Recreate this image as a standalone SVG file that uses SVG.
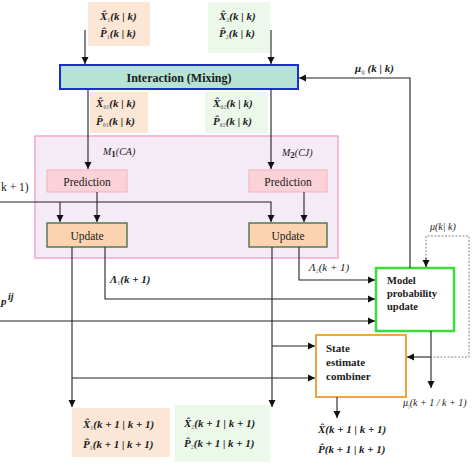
<svg xmlns="http://www.w3.org/2000/svg" width="474" height="474" viewBox="0 0 474 474">
<style>
text{font-family:"Liberation Serif","DejaVu Serif",serif;fill:#1a1a1a}
.m{font-size:11px;font-weight:bold;font-style:italic}
.mi{font-size:10px;font-style:italic}
.sub{font-size:6px;fill:#888;font-style:normal}
.lbl{font-size:11.5px}
.ln{stroke:#222;stroke-width:1.1;fill:none}
.dash{stroke:#777;stroke-width:0.9;fill:none;stroke-dasharray:2 1.5}
.org{fill:#fce6d6}
.grn{fill:#ecf8ea}
.pred{fill:#fbd2d8;stroke:#f2b2bc;stroke-width:1}
.upd{fill:#fcd3b0;stroke:#3d6b3d;stroke-width:1.3}
</style>
<defs>
<marker id="ah" markerWidth="8" markerHeight="8" refX="7" refY="4" orient="auto" markerUnits="userSpaceOnUse">
<path d="M0,0.5 L7,4 L0,7.5 Z" fill="#111"/>
</marker>
</defs>
<rect width="474" height="474" fill="#fff"/>

<g id="pinkbox"><rect x="35" y="136" width="303" height="122" fill="#f5ebf6" stroke="#f2a8cc" stroke-width="1.5"/>
<text x="103" y="155" class="mi" font-size="13">M<tspan font-size="9" dy="2" font-weight="bold" font-style="normal">1</tspan><tspan dy="-2">(CA)</tspan></text>
<text x="282" y="156" class="mi" font-size="13">M<tspan font-size="9" dy="2" font-weight="bold" font-style="normal">2</tspan><tspan dy="-2">(CJ)</tspan></text>
</g>

<g id="in1"><rect x="88" y="2" width="62" height="44" class="org"/>
<text x="100" y="20" class="m">X̂<tspan class="sub" dy="2">1</tspan><tspan dy="-2">(k | k)</tspan></text>
<text x="100" y="37" class="m">P̂<tspan class="sub" dy="2">1</tspan><tspan dy="-2">(k | k)</tspan></text></g>
<g id="in2"><rect x="208" y="2" width="62" height="51" class="grn"/>
<text x="219" y="20" class="m">X̂<tspan class="sub" dy="2">2</tspan><tspan dy="-2">(k | k)</tspan></text>
<text x="219" y="37" class="m">P̂<tspan class="sub" dy="2">2</tspan><tspan dy="-2">(k | k)</tspan></text></g>

<g id="interaction"><rect x="60" y="65" width="238" height="24" fill="#b6e3d3" stroke="#1b2fd0" stroke-width="2"/>
<text x="179" y="81.5" text-anchor="middle" font-size="12" font-weight="bold">Interaction (Mixing)</text></g>

<g id="mix1"><rect x="90" y="92" width="58" height="41" class="org"/>
<text x="96" y="107" class="m">X̂<tspan class="sub" dy="2">01</tspan><tspan dy="-2">(k | k)</tspan></text>
<text x="96" y="125" class="m">P̂<tspan class="sub" dy="2">01</tspan><tspan dy="-2">(k | k)</tspan></text></g>
<g id="mix2"><rect x="205" y="92" width="63" height="41" class="grn"/>
<text x="213" y="107" class="m">X̂<tspan class="sub" dy="2">02</tspan><tspan dy="-2">(k | k)</tspan></text>
<text x="213" y="125" class="m">P̂<tspan class="sub" dy="2">02</tspan><tspan dy="-2">(k | k)</tspan></text></g>

<g id="pred1"><rect x="47" y="170" width="80" height="22" class="pred"/><text x="87" y="185.5" class="lbl" text-anchor="middle">Prediction</text></g>
<g id="pred2"><rect x="249" y="170" width="78" height="22" class="pred"/><text x="288" y="185.5" class="lbl" text-anchor="middle">Prediction</text></g>
<g id="upd1"><rect x="47" y="223" width="80" height="24" class="upd"/><text x="87" y="239.5" class="lbl" text-anchor="middle">Update</text></g>
<g id="upd2"><rect x="249" y="223" width="78" height="24" class="upd"/><text x="288" y="239.5" class="lbl" text-anchor="middle">Update</text></g>

<g id="mpu"><rect x="376" y="268" width="78" height="63" fill="#fff" stroke="#3bdc3b" stroke-width="2.5"/>
<text x="387" y="284" font-size="10.5" font-weight="bold">Model</text>
<text x="387" y="297" font-size="10.5" font-weight="bold" fill="#333">probability</text>
<text x="387" y="310" font-size="10.5" font-weight="bold">update</text></g>

<g id="sec"><rect x="316" y="335" width="90" height="62" fill="#fff" stroke="#f0a63a" stroke-width="2"/>
<text x="326" y="352" font-size="11" font-weight="bold">State</text>
<text x="326" y="366" font-size="11" font-weight="bold">estimate</text>
<text x="326" y="380" font-size="11" font-weight="bold">combiner</text></g>

<g id="out1"><rect x="72" y="408" width="98" height="49" class="org"/>
<text x="83" y="428" class="m" font-size="12">X̂<tspan class="sub" dy="2" fill="#333">1</tspan><tspan dy="-2">(k + 1 | k + 1)</tspan></text>
<text x="83" y="448" class="m" font-size="12">P̂<tspan class="sub" dy="2" fill="#333">1</tspan><tspan dy="-2">(k + 1 | k + 1)</tspan></text></g>
<g id="out2"><rect x="175" y="405" width="95" height="57" class="grn"/>
<text x="184" y="427" class="m" font-size="12">X̂<tspan class="sub" dy="2">2</tspan><tspan dy="-2">(k + 1 | k + 1)</tspan></text>
<text x="184" y="447" class="m" font-size="12">P̂<tspan class="sub" dy="2">2</tspan><tspan dy="-2">(k + 1 | k + 1)</tspan></text></g>

<g id="outc">
<text x="318" y="433" class="m" font-size="12.5">X̂(k + 1 | k + 1)</text>
<text x="318" y="453" class="m" font-size="12.5">P̂(k + 1 | k + 1)</text></g>

<g id="connectors">
<line x1="85" y1="30" x2="85" y2="64" class="ln" marker-end="url(#ah)"/>
<line x1="271" y1="30" x2="271" y2="64" class="ln" marker-end="url(#ah)"/>
<polyline points="410,268 410,78 299,78" class="ln" marker-end="url(#ah)"/>
<line x1="88" y1="89" x2="88" y2="169" class="ln" marker-end="url(#ah)"/>
<line x1="271" y1="89" x2="271" y2="169" class="ln" marker-end="url(#ah)"/>
<polyline points="0,202 271,202 271,222" class="ln" marker-end="url(#ah)"/>
<line x1="60" y1="202" x2="60" y2="222" class="ln" marker-end="url(#ah)"/>
<line x1="97" y1="192" x2="97" y2="222" class="ln" marker-end="url(#ah)"/>
<line x1="304" y1="192" x2="304" y2="222" class="ln" marker-end="url(#ah)"/>
<line x1="72" y1="247" x2="72" y2="407" class="ln" marker-end="url(#ah)"/>
<polyline points="105,247 105,299 375,299" class="ln" marker-end="url(#ah)"/>
<line x1="272" y1="247" x2="272" y2="407" class="ln" marker-end="url(#ah)"/>
<polyline points="299,247 299,280 375,280" class="ln" marker-end="url(#ah)"/>
<line x1="0" y1="321" x2="375" y2="321" class="ln" marker-end="url(#ah)"/>
<line x1="272" y1="346" x2="315" y2="346" class="ln" marker-end="url(#ah)"/>
<line x1="72" y1="378" x2="315" y2="378" class="ln" marker-end="url(#ah)"/>
<line x1="431" y1="331" x2="431" y2="388" class="ln" marker-end="url(#ah)"/>
<line x1="431" y1="357" x2="407" y2="357" class="ln" marker-end="url(#ah)"/>
<polyline points="426,266 426,236 469,236 469,357 431,357" class="dash"/>
<line x1="426" y1="258" x2="426" y2="267" class="ln" marker-end="url(#ah)"/>
<line x1="337" y1="397" x2="337" y2="418" class="ln" marker-end="url(#ah)"/>
</g>

<g id="labels">
<text x="355" y="72" class="m">μ<tspan class="sub" dy="2">ij</tspan><tspan dy="-2"> (k | k)</tspan></text>
<text x="430" y="230" class="mi" font-size="9.5">μ(k| k)</text>
<text x="110" y="283" class="m" font-size="11.5">Λ<tspan class="sub" dy="2" fill="#333">1</tspan><tspan dy="-2">(k + 1)</tspan></text>
<text x="309" y="271" font-size="11" font-style="italic">Λ<tspan class="sub" dy="2" fill="#333">2</tspan><tspan dy="-2">(k + 1)</tspan></text>
<text x="403" y="406" class="mi" font-size="10.5">μ<tspan class="sub" dy="2">j</tspan><tspan dy="-2">(k + 1 / k + 1)</tspan></text>
<text x="1" y="191" class="lbl">k + 1)</text>
<text x="1" y="305" class="m">p</text>
<text x="8" y="300" class="mi" font-size="7" font-weight="bold">ij</text>
</g>
</svg>
